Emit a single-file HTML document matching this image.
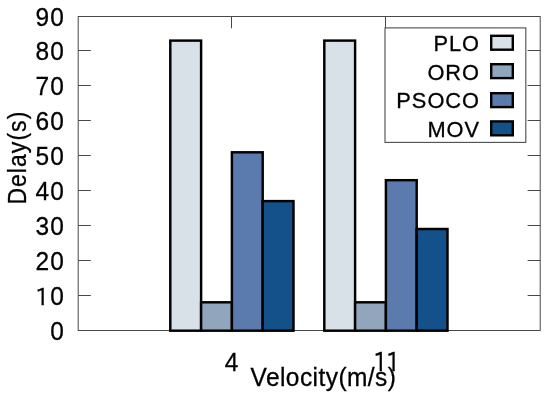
<!DOCTYPE html>
<html><head><meta charset="utf-8"><title>Delay vs Velocity</title>
<style>
html,body{margin:0;padding:0;background:#fff;}
body{width:550px;height:398px;overflow:hidden;}
svg{display:block;}
text{font-family:"Liberation Sans",Arial,sans-serif;fill:#000;stroke:#000;stroke-width:0.3px;}
.t{font-size:26.2px;}
.k{font-size:22.5px;}
.one{font-family:"IPAPGothic","Liberation Sans",sans-serif;font-size:23.4px;}
</style></head><body>
<svg width="550" height="398" viewBox="0 0 550 398">
<rect x="0" y="0" width="550" height="398" fill="#fff"/>
<g stroke="#484848" stroke-width="1" fill="none">
<rect x="78.2" y="16.5" width="462.0" height="314.0"/>
<path d="M78.2 295.5h12.6M540.2 295.5h-12.6M78.2 260.5h12.6M540.2 260.5h-12.6M78.2 225.5h12.6M540.2 225.5h-12.6M78.2 190.5h12.6M540.2 190.5h-12.6M78.2 155.5h12.6M540.2 155.5h-12.6M78.2 120.5h12.6M540.2 120.5h-12.6M78.2 85.5h12.6M540.2 85.5h-12.6M78.2 50.5h12.6M540.2 50.5h-12.6M231.5 16.5v11.8M231.5 330.5v-11.8M385.5 16.5v11.8M385.5 330.5v-11.8"/>
</g>
<g stroke="#000" stroke-width="2.45">
<rect x="170.3" y="40.6" width="30.8" height="290.1" fill="#d8e0e8"/>
<rect x="201.1" y="302.3" width="30.8" height="28.4" fill="#91a6bc"/>
<rect x="231.9" y="152.3" width="30.8" height="178.4" fill="#5b7aae"/>
<rect x="262.7" y="201.1" width="30.8" height="129.6" fill="#14508a"/>
<rect x="324.3" y="40.6" width="30.8" height="290.1" fill="#d8e0e8"/>
<rect x="355.1" y="302.3" width="30.8" height="28.4" fill="#91a6bc"/>
<rect x="385.9" y="180.2" width="30.8" height="150.5" fill="#5b7aae"/>
<rect x="416.7" y="229.0" width="30.8" height="101.7" fill="#14508a"/>
</g>
<rect x="385" y="27.9" width="140.8" height="114.5" fill="#fff" stroke="#4c4c4c" stroke-width="1.1"/>
<g stroke="#000" stroke-width="2.4">
<rect x="491.2" y="35.8" width="21.6" height="13.9" fill="#d8e0e8"/>
<rect x="491.2" y="64.2" width="21.6" height="13.9" fill="#91a6bc"/>
<rect x="491.2" y="93.2" width="21.6" height="13.9" fill="#5b7aae"/>
<rect x="491.2" y="121.4" width="21.6" height="13.9" fill="#14508a"/>
</g>
<g class="k" text-anchor="end" letter-spacing="1.0">
<text transform="translate(480,51.2) scale(0.97,1)">PLO</text>
<text transform="translate(480,79.6) scale(0.97,1)">ORO</text>
<text transform="translate(480,108.2) scale(0.97,1)">PSOCO</text>
<text transform="translate(480,136.6) scale(0.97,1)">MOV</text>
</g>
<g class="t" text-anchor="end" letter-spacing="1.2">
<text transform="translate(65,339.7) scale(0.935,1)">0</text>
<text transform="translate(65,304.7) scale(0.935,1)"><tspan class="one" dy="0.6">1</tspan><tspan dy="-0.6">0</tspan></text>
<text transform="translate(65,269.7) scale(0.935,1)">20</text>
<text transform="translate(65,234.7) scale(0.935,1)">30</text>
<text transform="translate(65,199.7) scale(0.935,1)">40</text>
<text transform="translate(65,164.7) scale(0.935,1)">50</text>
<text transform="translate(65,129.7) scale(0.935,1)">60</text>
<text transform="translate(65,94.7) scale(0.935,1)">70</text>
<text transform="translate(65,59.7) scale(0.935,1)">80</text>
<text transform="translate(65,25.7) scale(0.935,1)">90</text>
</g>
<g class="t" text-anchor="middle" letter-spacing="1.2">
<text transform="translate(232.2,370.6) scale(0.935,1)">4</text>
<text transform="translate(386.0,371.1) scale(0.935,1)" class="one" style="font-size:23.8px" letter-spacing="-1.3">11</text>
</g>
<text class="t" transform="translate(250.5,386.4) scale(0.935,1)" letter-spacing="0.47">Velocity(m/s)</text>
<text style="font-size:25.8px" transform="translate(26.4,204.6) rotate(-90) scale(0.89,1)" letter-spacing="1.2">Delay(s)</text>
</svg>
</body></html>
